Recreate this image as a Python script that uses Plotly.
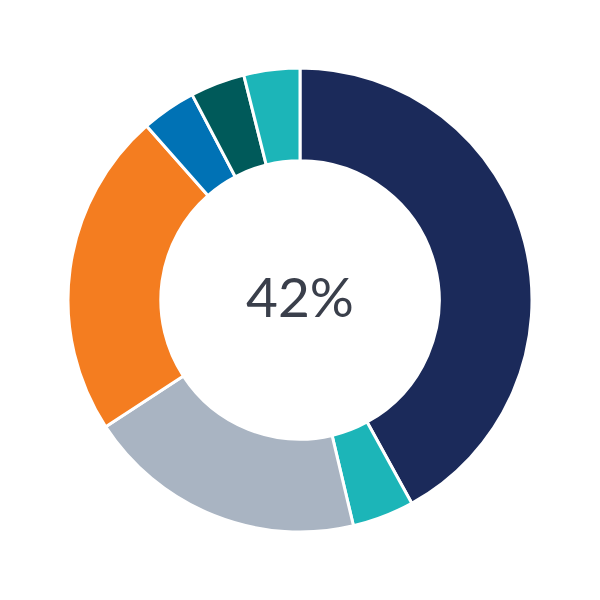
import plotly.graph_objects as go

labels = ["A", "B", "C", "D", "E", "F", "G"]
values = [42, 4.3, 19.5, 22.7, 3.8, 3.8, 3.9]
colors = ["#1B2A5A", "#1CB5B8", "#A9B4C2", "#F47D20", "#0072B5", "#005A5A", "#1CB5B8"]
center_text = "42%"

fig = go.Figure(go.Pie(
    labels=labels,
    values=values,
    marker=dict(colors=colors, line=dict(color="white", width=3)),
    hole=0.6,
    sort=False,
    direction="clockwise",
    rotation=0,
    textinfo="none",
    hoverinfo="label+percent",
    domain=dict(x=[60/600, 524/600], y=[1 - 524/600, 1 - 60/600]),
))
fig.update_layout(
    width=600, height=600,
    margin=dict(l=0, r=0, t=0, b=0),
    showlegend=False,
    paper_bgcolor="white",
    annotations=[dict(text=center_text, x=292/600, y=1 - 292/600, xref="paper", yref="paper",
                      yshift=4, showarrow=False,
                      font=dict(family="Lato", size=55, color="#3A3F4B"))],
)
fig.write_html("out.html")
